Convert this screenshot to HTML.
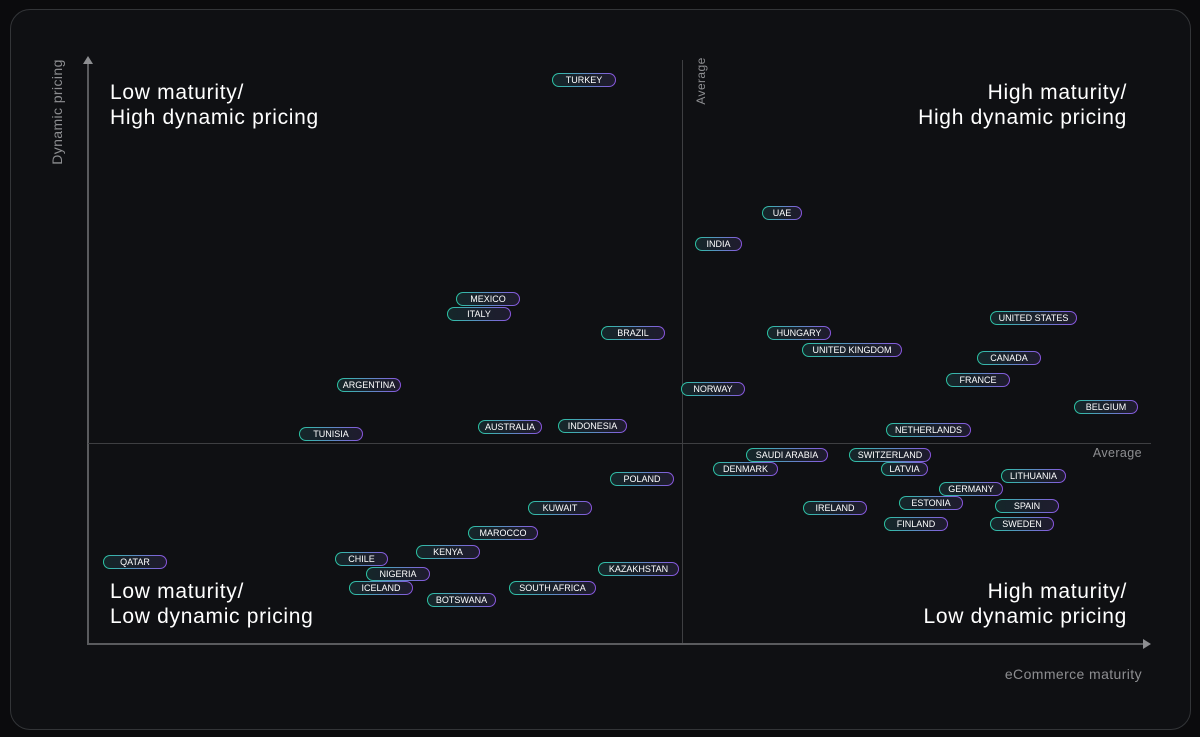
<!DOCTYPE html>
<html><head><meta charset="utf-8"><style>
body{margin:0;width:1200px;height:737px;background:#0b0b0d;position:relative;overflow:hidden;font-family:"Liberation Sans",sans-serif}
.card{position:absolute;left:10px;top:9px;width:1179px;height:719px;border:1px solid #333538;border-radius:20px;background:#0f1013}
.l{position:absolute;background:#5a5b5e}
.p{position:absolute;height:12px;line-height:12px;border:1.5px solid transparent;border-radius:8px;color:#fff;font-size:9px;text-align:center;white-space:nowrap;margin-top:1px;
background:linear-gradient(90deg,#15262a,#1f1c2e) padding-box,linear-gradient(90deg,#2bc4a3,#8a55e0) border-box}
.q{position:absolute;color:#fff;font-size:21px;letter-spacing:0.7px;line-height:25px;white-space:nowrap}
.g{position:absolute;color:#8d8e91;font-size:14px;letter-spacing:0.4px;white-space:nowrap}
</style></head><body>
<div class="card"></div>
<div class="l" style="left:87px;top:62px;width:1.5px;height:582px"></div>
<div class="l" style="left:87px;top:643px;width:1058px;height:1.5px"></div>
<div style="position:absolute;left:83px;top:56px;width:0;height:0;border-left:5px solid transparent;border-right:5px solid transparent;border-bottom:8px solid #8d8e91"></div>
<div style="position:absolute;left:1143px;top:639px;width:0;height:0;border-top:5px solid transparent;border-bottom:5px solid transparent;border-left:8px solid #8d8e91"></div>
<div class="l" style="left:682px;top:60px;width:1px;height:583px;background:#3e3f42"></div>
<div class="l" style="left:88px;top:443px;width:1063px;height:1px;background:#3e3f42"></div>
<div class="g" style="left:-3px;top:104px;width:120px;text-align:center;transform:rotate(-90deg)">Dynamic pricing</div>
<div class="g" style="left:656px;top:74px;width:90px;text-align:center;transform:rotate(-90deg);font-size:12px">Average</div>
<div class="g" style="right:58px;top:446px;font-size:12.5px">Average</div>
<div class="g" style="right:58px;top:666px">eCommerce maturity</div>
<div class="q" style="left:110px;top:80px">Low maturity/<br>High dynamic pricing</div>
<div class="q" style="right:73px;top:80px;text-align:right">High maturity/<br>High dynamic pricing</div>
<div class="q" style="left:110px;top:579px">Low maturity/<br>Low dynamic pricing</div>
<div class="q" style="right:73px;top:579px;text-align:right">High maturity/<br>Low dynamic pricing</div>

<div class="p" style="left:552px;top:72px;width:62px">TURKEY</div>
<div class="p" style="left:762px;top:205px;width:38px">UAE</div>
<div class="p" style="left:695px;top:236px;width:45px">INDIA</div>
<div class="p" style="left:456px;top:291px;width:62px">MEXICO</div>
<div class="p" style="left:447px;top:306px;width:62px">ITALY</div>
<div class="p" style="left:601px;top:325px;width:62px">BRAZIL</div>
<div class="p" style="left:767px;top:325px;width:62px">HUNGARY</div>
<div class="p" style="left:802px;top:342px;width:98px">UNITED KINGDOM</div>
<div class="p" style="left:990px;top:310px;width:85px">UNITED STATES</div>
<div class="p" style="left:977px;top:350px;width:62px">CANADA</div>
<div class="p" style="left:946px;top:372px;width:62px">FRANCE</div>
<div class="p" style="left:337px;top:377px;width:62px">ARGENTINA</div>
<div class="p" style="left:681px;top:381px;width:62px">NORWAY</div>
<div class="p" style="left:1074px;top:399px;width:62px">BELGIUM</div>
<div class="p" style="left:299px;top:426px;width:62px">TUNISIA</div>
<div class="p" style="left:478px;top:419px;width:62px">AUSTRALIA</div>
<div class="p" style="left:558px;top:418px;width:67px">INDONESIA</div>
<div class="p" style="left:886px;top:422px;width:83px">NETHERLANDS</div>
<div class="p" style="left:746px;top:447px;width:80px">SAUDI ARABIA</div>
<div class="p" style="left:849px;top:447px;width:80px">SWITZERLAND</div>
<div class="p" style="left:713px;top:461px;width:63px">DENMARK</div>
<div class="p" style="left:881px;top:461px;width:45px">LATVIA</div>
<div class="p" style="left:1001px;top:468px;width:63px">LITHUANIA</div>
<div class="p" style="left:610px;top:471px;width:62px">POLAND</div>
<div class="p" style="left:939px;top:481px;width:62px">GERMANY</div>
<div class="p" style="left:899px;top:495px;width:62px">ESTONIA</div>
<div class="p" style="left:995px;top:498px;width:62px">SPAIN</div>
<div class="p" style="left:528px;top:500px;width:62px">KUWAIT</div>
<div class="p" style="left:803px;top:500px;width:62px">IRELAND</div>
<div class="p" style="left:884px;top:516px;width:62px">FINLAND</div>
<div class="p" style="left:990px;top:516px;width:62px">SWEDEN</div>
<div class="p" style="left:468px;top:525px;width:68px">MAROCCO</div>
<div class="p" style="left:416px;top:544px;width:62px">KENYA</div>
<div class="p" style="left:335px;top:551px;width:51px">CHILE</div>
<div class="p" style="left:103px;top:554px;width:62px">QATAR</div>
<div class="p" style="left:598px;top:561px;width:79px">KAZAKHSTAN</div>
<div class="p" style="left:366px;top:566px;width:62px">NIGERIA</div>
<div class="p" style="left:349px;top:580px;width:62px">ICELAND</div>
<div class="p" style="left:509px;top:580px;width:85px">SOUTH AFRICA</div>
<div class="p" style="left:427px;top:592px;width:67px">BOTSWANA</div>
</body></html>
